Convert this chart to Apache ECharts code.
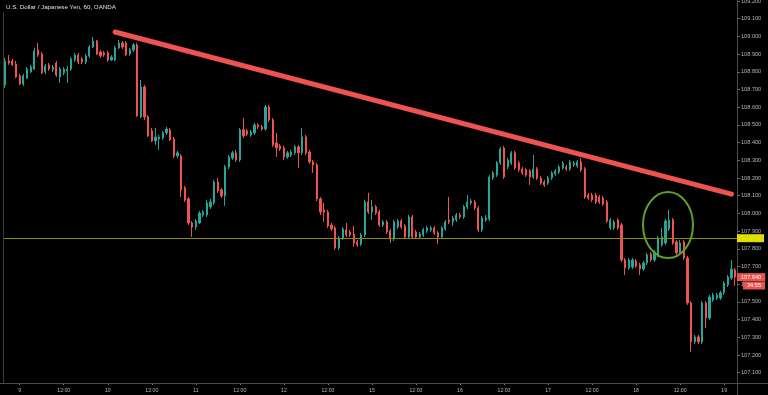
<!DOCTYPE html>
<html><head><meta charset="utf-8">
<script src="https://cdn.jsdelivr.net/npm/echarts@6/dist/echarts.min.js"></script>
<style>html,body{margin:0;padding:0;background:#000}#c{width:768px;height:395px}</style>
</head><body><div id="c"></div>
<script>
const chartTitle = 'U.S. Dollar / Japanese Yen, 60, OANDA';
const sessionDays = ['8','9','10','11','12','15','16','17','18','19'];
const firstHour = 20;
// [open, close, low, high]
const candles = [
[108.726,108.861,108.709,108.878],[108.861,108.850,108.839,108.895],[108.861,108.839,108.833,108.873],[108.844,108.771,108.765,108.861],
[108.777,108.731,108.726,108.788],[108.731,108.777,108.720,108.788],[108.765,108.816,108.760,108.827],[108.799,108.827,108.794,108.839],
[108.816,108.918,108.811,108.935],[108.924,108.895,108.884,108.963],[108.901,108.794,108.788,108.912],[108.799,108.833,108.788,108.844],
[108.839,108.816,108.805,108.850],[108.811,108.827,108.799,108.839],[108.850,108.782,108.771,108.861],[108.771,108.816,108.737,108.827],
[108.794,108.816,108.782,108.827],[108.805,108.816,108.737,108.833],[108.816,108.873,108.805,108.884],[108.867,108.895,108.856,108.907],
[108.895,108.856,108.844,108.907],[108.873,108.856,108.844,108.884],[108.856,108.890,108.844,108.901],[108.890,108.940,108.878,108.952],
[108.940,108.974,108.935,108.997],[108.974,108.901,108.895,108.980],[108.912,108.890,108.878,108.924],[108.907,108.895,108.884,108.918],
[108.907,108.867,108.856,108.918],[108.867,108.884,108.861,108.895],[108.867,108.935,108.861,108.946],[108.935,108.963,108.929,108.980],
[108.963,108.940,108.929,108.974],[108.963,108.895,108.890,108.974],[108.901,108.924,108.890,108.935],[108.924,108.952,108.912,108.963],
[108.952,108.551,108.545,108.963],[108.545,108.714,108.539,108.754],[108.714,108.545,108.528,108.726],[108.545,108.438,108.432,108.556],
[108.466,108.409,108.404,108.483],[108.409,108.432,108.387,108.483],[108.421,108.432,108.359,108.443],[108.426,108.455,108.415,108.466],
[108.455,108.477,108.443,108.489],[108.472,108.415,108.409,108.483],[108.421,108.325,108.313,108.432],[108.325,108.342,108.313,108.353],
[108.325,108.133,108.093,108.336],[108.144,108.076,108.065,108.155],[108.082,107.946,107.935,108.093],[107.946,107.923,107.867,107.957],
[107.923,107.957,107.907,107.969],[107.946,108.002,107.940,108.014],[107.991,108.008,107.980,108.020],[107.991,108.059,107.980,108.076],
[108.037,108.065,108.025,108.082],[108.059,108.178,108.048,108.189],[108.178,108.127,108.116,108.200],[108.133,108.099,108.087,108.144],
[108.099,108.262,108.042,108.274],[108.262,108.319,108.251,108.330],[108.313,108.342,108.302,108.353],[108.342,108.302,108.291,108.359],
[108.302,108.472,108.291,108.483],[108.472,108.438,108.426,108.539],[108.466,108.449,108.438,108.477],[108.443,108.460,108.432,108.472],
[108.455,108.500,108.443,108.511],[108.500,108.489,108.477,108.511],[108.489,108.477,108.466,108.500],[108.477,108.601,108.466,108.613],
[108.601,108.528,108.517,108.613],[108.528,108.387,108.376,108.539],[108.398,108.370,108.319,108.455],[108.381,108.364,108.353,108.392],
[108.370,108.319,108.302,108.381],[108.319,108.342,108.308,108.353],[108.330,108.347,108.319,108.359],[108.342,108.376,108.330,108.387],
[108.376,108.342,108.257,108.387],[108.342,108.432,108.330,108.483],[108.432,108.342,108.330,108.443],[108.347,108.291,108.279,108.359],
[108.291,108.274,108.229,108.302],[108.274,108.082,108.070,108.285],[108.082,108.008,107.991,108.093],[108.020,108.008,107.952,108.059],
[108.008,107.929,107.918,108.020],[107.935,107.912,107.901,107.946],[107.918,107.805,107.794,107.929],[107.805,107.861,107.794,107.873],
[107.861,107.912,107.850,107.923],[107.907,107.878,107.867,107.946],[107.895,107.878,107.867,107.907],[107.884,107.833,107.811,107.929],
[107.839,107.822,107.811,107.850],[107.827,107.878,107.816,107.890],[107.878,108.065,107.867,108.076],[108.065,108.008,107.997,108.116],
[108.008,108.037,107.963,108.076],[108.037,108.002,107.991,108.048],[108.008,107.935,107.923,108.020],[107.935,107.952,107.923,107.963],
[107.952,107.895,107.884,107.963],[107.901,107.856,107.833,107.912],[107.856,107.952,107.844,107.963],[107.923,107.957,107.912,107.969],
[107.957,107.923,107.912,107.969],[107.929,107.867,107.856,107.940],[107.867,107.980,107.856,107.991],[107.980,107.867,107.856,107.991],
[107.895,107.867,107.856,107.907],[107.867,107.884,107.856,107.895],[107.878,107.907,107.867,107.918],[107.901,107.918,107.890,107.929],
[107.907,107.918,107.895,107.929],[107.918,107.890,107.878,107.929],[107.890,107.867,107.827,107.901],[107.867,107.918,107.856,107.929],
[107.912,107.952,107.901,107.963],[107.963,107.952,107.940,108.093],[107.952,107.974,107.929,107.986],[107.963,107.991,107.952,108.002],
[107.991,107.980,107.969,108.002],[107.980,108.037,107.969,108.048],[108.037,108.065,108.025,108.104],[108.059,108.070,108.048,108.082],
[108.065,108.031,108.020,108.076],[108.031,107.907,107.895,108.042],[107.907,107.974,107.895,107.986],[107.963,107.974,107.952,107.991],
[107.969,108.206,107.957,108.217],[108.200,108.229,108.189,108.240],[108.217,108.285,108.206,108.296],[108.285,108.364,108.274,108.376],
[108.370,108.206,108.195,108.381],[108.262,108.302,108.251,108.313],[108.285,108.342,108.274,108.353],[108.342,108.257,108.246,108.353],
[108.285,108.246,108.234,108.296],[108.251,108.229,108.217,108.262],[108.246,108.217,108.206,108.257],[108.240,108.206,108.161,108.251],
[108.206,108.251,108.195,108.330],[108.251,108.200,108.189,108.262],[108.200,108.172,108.161,108.212],[108.178,108.161,108.150,108.189],
[108.172,108.200,108.161,108.212],[108.200,108.229,108.189,108.240],[108.223,108.240,108.212,108.251],[108.234,108.262,108.223,108.274],
[108.257,108.285,108.246,108.296],[108.262,108.251,108.240,108.274],[108.251,108.291,108.240,108.302],[108.274,108.285,108.262,108.296],
[108.268,108.291,108.257,108.302],[108.291,108.246,108.234,108.313],[108.251,108.093,108.082,108.262],[108.104,108.087,108.076,108.116],
[108.104,108.076,108.065,108.116],[108.104,108.065,108.053,108.116],[108.093,108.065,108.053,108.104],[108.087,108.053,108.042,108.099],
[108.065,107.957,107.946,108.076],[107.918,107.963,107.907,107.974],[107.918,107.952,107.907,107.963],[107.963,107.918,107.907,107.974],
[107.935,107.737,107.726,107.946],[107.737,107.692,107.652,107.748],[107.692,107.737,107.681,107.748],[107.697,107.737,107.686,107.748],
[107.731,107.703,107.692,107.743],[107.709,107.686,107.652,107.720],[107.686,107.720,107.675,107.731],[107.720,107.765,107.709,107.777],
[107.771,107.737,107.726,107.782],[107.737,107.782,107.726,107.794],[107.765,107.861,107.754,107.873],[107.822,107.867,107.811,107.918],
[107.833,107.957,107.822,107.969],[107.912,107.963,107.901,108.020],[107.963,107.833,107.822,107.974],[107.839,107.777,107.765,107.850],
[107.777,107.833,107.765,107.850],[107.839,107.748,107.737,107.850],[107.748,107.494,107.483,107.760],[107.494,107.274,107.217,107.505],
[107.274,107.302,107.262,107.313],[107.302,107.274,107.262,107.313],[107.274,107.494,107.262,107.505],[107.494,107.409,107.353,107.505],
[107.409,107.528,107.398,107.539],[107.511,107.539,107.500,107.551],[107.522,107.539,107.511,107.551],[107.522,107.551,107.511,107.562],
[107.551,107.607,107.539,107.618],[107.596,107.641,107.584,107.652],[107.635,107.686,107.624,107.737],[107.681,107.640,107.590,107.692]
];
const priceMin = 107.0, priceMax = 109.3, priceStep = 0.1;
const supportLevel = 107.858;
const lastPrice = 107.640;
const countdown = '34:55';
const trendStart = [30, 109.025];
const trendEnd = [198, 108.109];

const categories = [];
(function(){ let d = 0, h = firstHour;
  for (let i = 0; i < candles.length; i++) {
    categories.push(sessionDays[d] + ' ' + String(h).padStart(2,'0') + ':00');
    h++; if (h === 24) { h = 0; d++; }
  }})();
const isMajor = (i, v) => { const s = categories[i] || v; return s.endsWith(' 00:00') || s.endsWith(' 12:00'); };
const axisFont = 'Liberation Sans';

const chart = echarts.init(document.getElementById('c'));
chart.setOption({
  animation: false,
  backgroundColor: '#000',
  title: { text: chartTitle, left: 6, top: 4, padding: 0,
    textStyle: { color: '#e2e2e2', fontSize: 6.2, fontWeight: 'normal', fontFamily: axisFont } },
  grid: { left: 3.2, right: 31, top: -16.7, bottom: 4.6, containLabel: false, outerBoundsMode: 'none' },
  xAxis: { type: 'category', data: categories, boundaryGap: true, offset: -7.4,
    axisLine: { show: false },
    axisTick: { show: true, alignWithLabel: true, interval: isMajor, length: 2, lineStyle: { color: '#777' } },
    axisLabel: { interval: isMajor, formatter: v => v.endsWith(' 00:00') ? v.split(' ')[0] : '12:00',
      color: '#b4b4b4', fontSize: 5.2, margin: 5.5, fontFamily: axisFont },
    splitLine: { show: false } },
  yAxis: { type: 'value', position: 'right', min: priceMin, max: priceMax, interval: priceStep,
    axisLine: { show: true, lineStyle: { color: '#4a4a4a' } },
    axisTick: { show: true, length: 3, lineStyle: { color: '#666' } },
    axisLabel: { color: '#b4b4b4', fontSize: 5.6, margin: 4, showMinLabel: false, fontFamily: axisFont,
      formatter: v => v.toFixed(3) },
    splitLine: { show: false } },
  series: [{
    type: 'candlestick', data: candles, barWidth: '45%',
    itemStyle: { color: '#26a69a', color0: '#ef5350', borderColor: '#26a69a', borderColor0: '#ef5350', borderWidth: 1 },
    markLine: { silent: true, symbol: 'none', animation: false,
      data: [
        [{ coord: trendStart, lineStyle: { color: '#ef5350', width: 5, type: 'solid', cap: 'round' }, label: { show: false } },
         { coord: trendEnd }],
        { yAxis: supportLevel, lineStyle: { color: '#8c8c00', width: 1, type: 'solid' },
          label: { show: true, position: 'end', distance: 0, formatter: ' ', backgroundColor: '#dede00',
            width: 21, height: 6, padding: [1, 3], fontSize: 6 } },
        { yAxis: lastPrice, lineStyle: { color: 'rgba(0,0,0,0)', width: 0 },
          label: { show: true, position: 'end', distance: 0, formatter: '107.640', backgroundColor: '#e9524f',
            color: '#fff', fontSize: 5.6, padding: [1, 4], fontFamily: axisFont } }
      ] }
  }],
  graphic: [
    { type: 'line', shape: { x1: 0, y1: 383.5, x2: 768, y2: 383.5 }, style: { stroke: '#4a4a4a', lineWidth: 1 }, z: 10 },
    { type: 'line', shape: { x1: 737.5, y1: 383, x2: 737.5, y2: 395 }, style: { stroke: '#4a4a4a', lineWidth: 1 }, z: 10 },
    { type: 'line', shape: { x1: 3.5, y1: 12, x2: 3.5, y2: 383 }, style: { stroke: '#3a3a3a', lineWidth: 1 }, z: 10 },
    { type: 'ellipse', shape: { cx: 668, cy: 225, rx: 25, ry: 33 }, style: { fill: null, stroke: '#5f9e2c', lineWidth: 2 }, z: 20 },
    { type: 'text', x: 743, y: 281.5, style: { text: countdown, fill: '#fff', backgroundColor: '#e9524f',
      padding: [1, 4], font: '5.6px "Liberation Sans"' }, z: 20 }
  ]
});
</script></body></html>
